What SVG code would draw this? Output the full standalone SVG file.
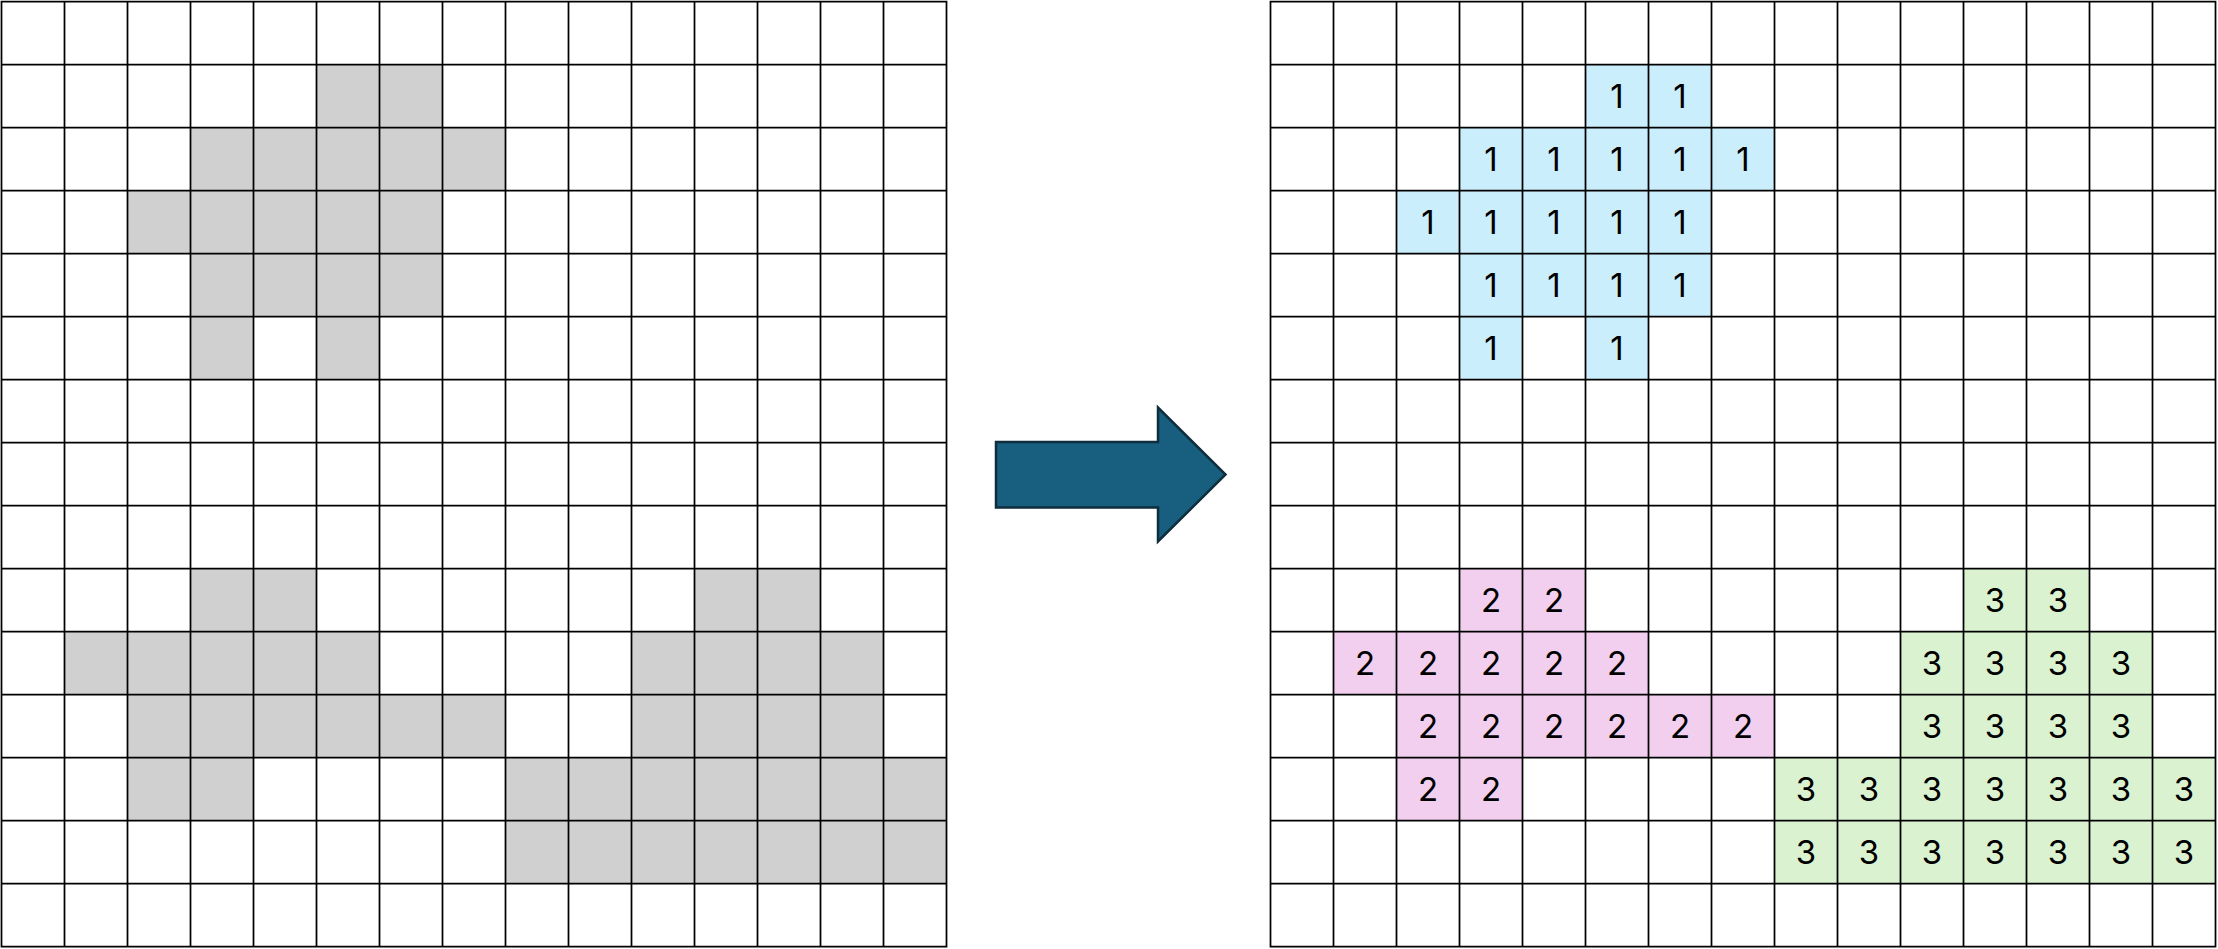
<svg xmlns="http://www.w3.org/2000/svg" xmlns:xlink="http://www.w3.org/1999/xlink" width="2218" height="949" viewBox="0 0 2218 949">
<style>
.grid{fill:none;stroke:#000;stroke-width:1.75;stroke-linecap:square}
.gray{fill:#D0D0D0}
.blue{fill:#CAEEFB}
.pink{fill:#F2CFEE}
.green{fill:#DAF2D0}
.num{font-family:Inter,"Noto Sans","Liberation Sans",sans-serif;font-size:33px;fill:#000;text-anchor:middle}
.arrow{fill:#175E7F;stroke:#0E2D3D;stroke-width:2.5;stroke-linejoin:miter}
</style>
<defs>
<path id="gridlines" class="grid" d="M0 0V945M63 0V945M126 0V945M189 0V945M252 0V945M315 0V945M378 0V945M441 0V945M504 0V945M567 0V945M630 0V945M693 0V945M756 0V945M819 0V945M882 0V945M945 0V945M0 0H945M0 63H945M0 126H945M0 189H945M0 252H945M0 315H945M0 378H945M0 441H945M0 504H945M0 567H945M0 630H945M0 693H945M0 756H945M0 819H945M0 882H945M0 945H945"/>
</defs>
<rect width="2218" height="949" fill="#fff"/>
<g id="left-grid">
<g class="gray">
<rect x="316.5" y="64.5" width="126" height="63"/>
<rect x="190.5" y="127.5" width="315" height="63"/>
<rect x="127.5" y="190.5" width="315" height="63"/>
<rect x="190.5" y="253.5" width="252" height="63"/>
<rect x="190.5" y="316.5" width="63" height="63"/>
<rect x="316.5" y="316.5" width="63" height="63"/>
<rect x="190.5" y="568.5" width="126" height="63"/>
<rect x="694.5" y="568.5" width="126" height="63"/>
<rect x="64.5" y="631.5" width="315" height="63"/>
<rect x="631.5" y="631.5" width="252" height="63"/>
<rect x="127.5" y="694.5" width="378" height="63"/>
<rect x="631.5" y="694.5" width="252" height="63"/>
<rect x="127.5" y="757.5" width="126" height="63"/>
<rect x="505.5" y="757.5" width="441" height="63"/>
<rect x="505.5" y="820.5" width="441" height="63"/>
</g>
<use xlink:href="#gridlines" href="#gridlines" transform="translate(1.5,1.5)"/>
</g>
<g id="arrow">
<polygon class="arrow" points="996,442 1158,442 1158,407.5 1225.5,474.5 1158,541.5 1158,507.5 996,507.5"/>
</g>
<g id="right-grid">
<g id="region-1">
<g class="blue">
<rect x="1585.5" y="64.5" width="126" height="63"/>
<rect x="1459.5" y="127.5" width="315" height="63"/>
<rect x="1396.5" y="190.5" width="315" height="63"/>
<rect x="1459.5" y="253.5" width="252" height="63"/>
<rect x="1459.5" y="316.5" width="63" height="63"/>
<rect x="1585.5" y="316.5" width="63" height="63"/>
</g>
<g class="num">
<text x="1617" y="108">1</text><text x="1680" y="108">1</text>
<text x="1491" y="171">1</text><text x="1554" y="171">1</text><text x="1617" y="171">1</text><text x="1680" y="171">1</text><text x="1743" y="171">1</text>
<text x="1428" y="234">1</text><text x="1491" y="234">1</text><text x="1554" y="234">1</text><text x="1617" y="234">1</text><text x="1680" y="234">1</text>
<text x="1491" y="297">1</text><text x="1554" y="297">1</text><text x="1617" y="297">1</text><text x="1680" y="297">1</text>
<text x="1491" y="360">1</text><text x="1617" y="360">1</text>
</g>
</g>
<g id="region-2">
<g class="pink">
<rect x="1459.5" y="568.5" width="126" height="63"/>
<rect x="1333.5" y="631.5" width="315" height="63"/>
<rect x="1396.5" y="694.5" width="378" height="63"/>
<rect x="1396.5" y="757.5" width="126" height="63"/>
</g>
<g class="num">
<text x="1491" y="612">2</text><text x="1554" y="612">2</text>
<text x="1365" y="675">2</text><text x="1428" y="675">2</text><text x="1491" y="675">2</text><text x="1554" y="675">2</text><text x="1617" y="675">2</text>
<text x="1428" y="738">2</text><text x="1491" y="738">2</text><text x="1554" y="738">2</text><text x="1617" y="738">2</text><text x="1680" y="738">2</text><text x="1743" y="738">2</text>
<text x="1428" y="801">2</text><text x="1491" y="801">2</text>
</g>
</g>
<g id="region-3">
<g class="green">
<rect x="1963.5" y="568.5" width="126" height="63"/>
<rect x="1900.5" y="631.5" width="252" height="63"/>
<rect x="1900.5" y="694.5" width="252" height="63"/>
<rect x="1774.5" y="757.5" width="441" height="63"/>
<rect x="1774.5" y="820.5" width="441" height="63"/>
</g>
<g class="num">
<text x="1995" y="612">3</text><text x="2058" y="612">3</text>
<text x="1932" y="675">3</text><text x="1995" y="675">3</text><text x="2058" y="675">3</text><text x="2121" y="675">3</text>
<text x="1932" y="738">3</text><text x="1995" y="738">3</text><text x="2058" y="738">3</text><text x="2121" y="738">3</text>
<text x="1806" y="801">3</text><text x="1869" y="801">3</text><text x="1932" y="801">3</text><text x="1995" y="801">3</text><text x="2058" y="801">3</text><text x="2121" y="801">3</text><text x="2184" y="801">3</text>
<text x="1806" y="864">3</text><text x="1869" y="864">3</text><text x="1932" y="864">3</text><text x="1995" y="864">3</text><text x="2058" y="864">3</text><text x="2121" y="864">3</text><text x="2184" y="864">3</text>
</g>
</g>
<use xlink:href="#gridlines" href="#gridlines" transform="translate(1270.5,1.5)"/>
</g>
<g id="connectors"></g>
</svg>
